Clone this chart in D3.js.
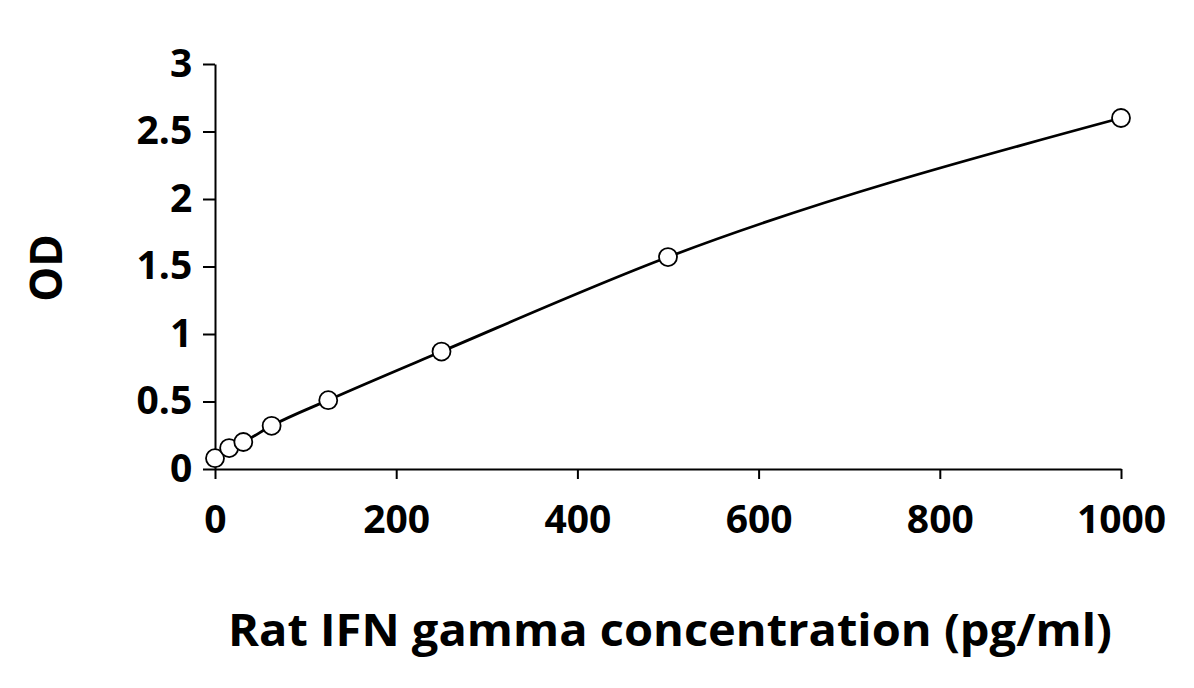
<!DOCTYPE html><html><head><meta charset="utf-8">
<script src="https://cdn.jsdelivr.net/npm/d3@7"></script>
<style>body{margin:0;background:#fff}text{font-family:"Open Sans","Liberation Sans",sans-serif;font-weight:bold}</style>
</head><body><svg id="c" width="1194" height="688"></svg>
<script>
const conc=[0,15.6,31.25,62.5,125,250,500,1000];
const od=[0.08,0.155,0.2,0.32,0.51,0.87,1.57,2.6];
const xTicks=[0,200,400,600,800,1000];
const yTicks=[0,0.5,1,1.5,2,2.5,3];
const svg=d3.select("#c");
const x=d3.scaleLinear().domain([0,1000]).range([215,1121]);
const y=d3.scaleLinear().domain([0,3]).range([469,64]);
const xa=svg.append("g").attr("transform","translate(0,469)").call(d3.axisBottom(x).tickValues(xTicks).tickFormat(d3.format("d")).tickSize(10).tickSizeOuter(0));
const ya=svg.append("g").attr("transform","translate(215,0)").call(d3.axisLeft(y).tickValues(yTicks).tickFormat(d=>String(d)).tickSize(12).tickSizeOuter(0));
[xa,ya].forEach(a=>{a.selectAll("path,line").attr("stroke","#000").attr("stroke-width",2);a.selectAll("text").attr("font-size",39).attr("fill","#000").style("font-family","'Open Sans',sans-serif").style("font-weight","bold");});
xa.selectAll("text").attr("dy","1.3em");
ya.selectAll("text").attr("dx","-0.2em");
const pts=conc.map((c,i)=>[c,od[i]]);
svg.append("path").datum(pts).attr("d",d3.line().x(d=>x(d[0])).y(d=>y(d[1])).curve(d3.curveMonotoneX)).attr("fill","none").attr("stroke","#000").attr("stroke-width",2.8);
svg.selectAll("circle").data(pts).join("circle").attr("cx",d=>x(d[0])).attr("cy",d=>y(d[1])).attr("r",9).attr("fill","#fff").attr("stroke","#000").attr("stroke-width",1.8);
svg.append("text").attr("x",228).attr("y",646).attr("textLength",884).attr("lengthAdjust","spacingAndGlyphs").attr("font-size",44).text("Rat IFN gamma concentration (pg/ml)");
svg.append("text").attr("transform","translate(62,268) rotate(-90)").attr("text-anchor","middle").attr("font-size",44).text("OD");
</script></body></html>
